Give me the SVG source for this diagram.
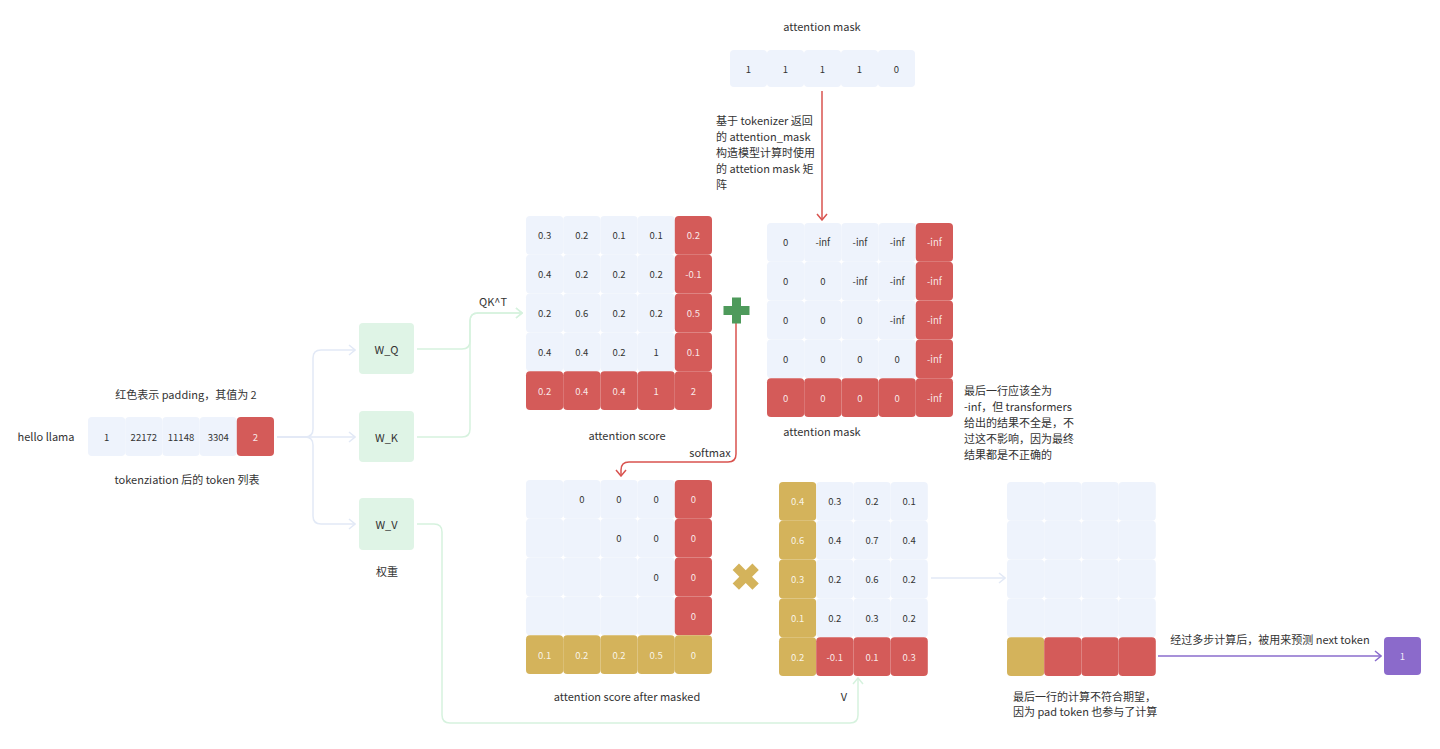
<svg xmlns="http://www.w3.org/2000/svg" width="1440" height="749" viewBox="0 0 1440 749">
<defs>
<style>
text{font-family:"Noto Sans CJK SC","Noto Sans",sans-serif;}
.c{fill:#eef3fc}
.r{fill:#d45b59}
.g{fill:#d4b35b}
.n{fill:#dff4e6}
.t{font-size:9.5px;fill:#333;text-anchor:middle;dominant-baseline:central}
.w{fill:#fff;fill-opacity:.88}
.l{font-size:11px;fill:#333}
.m{text-anchor:middle}
.nl{font-size:11px;fill:#333;text-anchor:middle;dominant-baseline:central}
.ln{fill:none;stroke-width:1.5}
</style>
<marker id="aB" markerWidth="8" markerHeight="12" refX="7" refY="6" orient="auto" markerUnits="userSpaceOnUse"><path d="M1,1 L7,6 L1,11" fill="none" stroke="#e2e9f6" stroke-width="1.5"/></marker>
<marker id="aG" markerWidth="8" markerHeight="12" refX="7" refY="6" orient="auto" markerUnits="userSpaceOnUse"><path d="M1,1 L7,6 L1,11" fill="none" stroke="#d6f2de" stroke-width="1.5"/></marker>
<marker id="aR" markerWidth="8" markerHeight="12" refX="7" refY="6" orient="auto" markerUnits="userSpaceOnUse"><path d="M1,1 L7,6 L1,11" fill="none" stroke="#d9534f" stroke-width="1.5"/></marker>
<marker id="aP" markerWidth="8" markerHeight="12" refX="7" refY="6" orient="auto" markerUnits="userSpaceOnUse"><path d="M1,1 L7,6 L1,11" fill="none" stroke="#8a6ccc" stroke-width="1.5"/></marker>
</defs>
<rect width="1440" height="749" fill="#fff"/>

<g id="connectors">
<path class="ln" stroke="#e2e9f6" d="M277,437 H355" marker-end="url(#aB)"/>
<path class="ln" stroke="#e2e9f6" d="M277,437 H305 Q313,437 313,429 V358 Q313,350 321,350 H355" marker-end="url(#aB)"/>
<path class="ln" stroke="#e2e9f6" d="M277,437 H305 Q313,437 313,445 V516 Q313,524 321,524 H355" marker-end="url(#aB)"/>
<path class="ln" stroke="#d6f2de" d="M417,349 H462 Q470,349 470,341 V321 Q470,313 478,313 H522" marker-end="url(#aG)"/>
<path class="ln" stroke="#d6f2de" d="M417,437 H462 Q470,437 470,429 V321 Q470,313 478,313 H522" marker-end="url(#aG)"/>
<path class="ln" stroke="#d6f2de" d="M417,524 H434 Q442,524 442,532 V715 Q442,723 450,723 H850 Q858,723 858,715 V678" marker-end="url(#aG)"/>
<path class="ln" stroke="#d9534f" d="M822,91 V220" marker-end="url(#aR)"/>
<path class="ln" stroke="#d9534f" d="M736,323 V454 Q736,462 728,462 H629 Q621,462 621,470 V476" marker-end="url(#aR)"/>
<path class="ln" stroke="#e2e9f6" d="M931,578 H1005" marker-end="url(#aB)"/>
<path class="ln" stroke="#8a6ccc" d="M1158,656 H1381" marker-end="url(#aP)"/>
<text class="l m" x="493" y="306">QK^T</text>
<text class="l m" x="710" y="457">softmax</text>
<text class="l m" x="1270" y="644">经过多步计算后，被用来预测 next token</text>
</g>

<g id="input">
<text class="l m" x="46" y="441">hello llama</text>
</g>

<g id="tokens" transform="translate(88,417)">
<rect class="c" x="0" y="0" width="37.2" height="39" rx="4"/>
<rect class="c" x="37.2" y="0" width="37.2" height="39" rx="4"/>
<rect class="c" x="74.4" y="0" width="37.2" height="39" rx="4"/>
<rect class="c" x="111.6" y="0" width="37.2" height="39" rx="4"/>
<rect class="r" x="148.8" y="0" width="37.2" height="39" rx="4"/>
<text class="t" x="18.6" y="19.5">1</text>
<text class="t" x="55.8" y="19.5">22172</text>
<text class="t" x="93" y="19.5">11148</text>
<text class="t" x="130.2" y="19.5">3304</text>
<text class="t w" x="167.4" y="19.5">2</text>
</g>
<g id="tokens-labels">
<text class="l m" x="186" y="399">红色表示 padding，其值为 2</text>
<text class="l m" x="187" y="484">tokenziation 后的 token 列表</text>
</g>

<g id="wq"><rect class="n" x="359" y="323" width="55" height="51" rx="4"/><text class="nl" x="386.5" y="348.5">W_Q</text></g>
<g id="wk"><rect class="n" x="359" y="411" width="55" height="51" rx="4"/><text class="nl" x="386.5" y="436.5">W_K</text></g>
<g id="wv"><rect class="n" x="359" y="498" width="55" height="52" rx="4"/><text class="nl" x="386.5" y="524">W_V</text></g>
<g id="weights-label"><text class="l m" x="387" y="576">权重</text></g>

<g id="mask-row">
<text class="l m" x="822" y="31">attention mask</text>
<g transform="translate(730,50)">
<rect class="c" x="0" y="0" width="37" height="37" rx="4"/>
<rect class="c" x="37" y="0" width="37" height="37" rx="4"/>
<rect class="c" x="74" y="0" width="37" height="37" rx="4"/>
<rect class="c" x="111" y="0" width="37" height="37" rx="4"/>
<rect class="c" x="148" y="0" width="37" height="37" rx="4"/>
<text class="t" x="18.5" y="18.5">1</text>
<text class="t" x="55.5" y="18.5">1</text>
<text class="t" x="92.5" y="18.5">1</text>
<text class="t" x="129.5" y="18.5">1</text>
<text class="t" x="166.5" y="18.5">0</text>
</g>
</g>

<g id="mask-note">
<text class="l" x="716" y="125">基于 tokenizer 返回</text>
<text class="l" x="716" y="141">的 attention_mask</text>
<text class="l" x="716" y="157">构造模型计算时使用</text>
<text class="l" x="716" y="173">的 attetion mask 矩</text>
<text class="l" x="716" y="189">阵</text>
</g>

<g id="score">
<g transform="translate(526,216)">
<rect class="c" x="0" y="0" width="37.2" height="38.8" rx="4"/><rect class="c" x="37.2" y="0" width="37.2" height="38.8" rx="4"/><rect class="c" x="74.4" y="0" width="37.2" height="38.8" rx="4"/><rect class="c" x="111.6" y="0" width="37.2" height="38.8" rx="4"/><rect class="r" x="148.8" y="0" width="37.2" height="38.8" rx="4"/>
<rect class="c" x="0" y="38.8" width="37.2" height="38.8" rx="4"/><rect class="c" x="37.2" y="38.8" width="37.2" height="38.8" rx="4"/><rect class="c" x="74.4" y="38.8" width="37.2" height="38.8" rx="4"/><rect class="c" x="111.6" y="38.8" width="37.2" height="38.8" rx="4"/><rect class="r" x="148.8" y="38.8" width="37.2" height="38.8" rx="4"/>
<rect class="c" x="0" y="77.6" width="37.2" height="38.8" rx="4"/><rect class="c" x="37.2" y="77.6" width="37.2" height="38.8" rx="4"/><rect class="c" x="74.4" y="77.6" width="37.2" height="38.8" rx="4"/><rect class="c" x="111.6" y="77.6" width="37.2" height="38.8" rx="4"/><rect class="r" x="148.8" y="77.6" width="37.2" height="38.8" rx="4"/>
<rect class="c" x="0" y="116.4" width="37.2" height="38.8" rx="4"/><rect class="c" x="37.2" y="116.4" width="37.2" height="38.8" rx="4"/><rect class="c" x="74.4" y="116.4" width="37.2" height="38.8" rx="4"/><rect class="c" x="111.6" y="116.4" width="37.2" height="38.8" rx="4"/><rect class="r" x="148.8" y="116.4" width="37.2" height="38.8" rx="4"/>
<rect class="r" x="0" y="155.2" width="37.2" height="38.8" rx="4"/><rect class="r" x="37.2" y="155.2" width="37.2" height="38.8" rx="4"/><rect class="r" x="74.4" y="155.2" width="37.2" height="38.8" rx="4"/><rect class="r" x="111.6" y="155.2" width="37.2" height="38.8" rx="4"/><rect class="r" x="148.8" y="155.2" width="37.2" height="38.8" rx="4"/>
<text class="t" x="18.6" y="19.4">0.3</text><text class="t" x="55.8" y="19.4">0.2</text><text class="t" x="93" y="19.4">0.1</text><text class="t" x="130.2" y="19.4">0.1</text><text class="t w" x="167.4" y="19.4">0.2</text>
<text class="t" x="18.6" y="58.2">0.4</text><text class="t" x="55.8" y="58.2">0.2</text><text class="t" x="93" y="58.2">0.2</text><text class="t" x="130.2" y="58.2">0.2</text><text class="t w" x="167.4" y="58.2">-0.1</text>
<text class="t" x="18.6" y="97">0.2</text><text class="t" x="55.8" y="97">0.6</text><text class="t" x="93" y="97">0.2</text><text class="t" x="130.2" y="97">0.2</text><text class="t w" x="167.4" y="97">0.5</text>
<text class="t" x="18.6" y="135.8">0.4</text><text class="t" x="55.8" y="135.8">0.4</text><text class="t" x="93" y="135.8">0.2</text><text class="t" x="130.2" y="135.8">1</text><text class="t w" x="167.4" y="135.8">0.1</text>
<text class="t w" x="18.6" y="174.6">0.2</text><text class="t w" x="55.8" y="174.6">0.4</text><text class="t w" x="93" y="174.6">0.4</text><text class="t w" x="130.2" y="174.6">1</text><text class="t w" x="167.4" y="174.6">2</text>
</g>
<text class="l m" x="627" y="440">attention score</text>
</g>

<g id="plus">
<path d="M732,297.5 h9 v8.5 h8.5 v9 h-8.5 v8.5 h-9 v-8.5 h-8.5 v-9 h8.5 z" fill="#4e9a5b"/>
</g>

<g id="mask-matrix">
<g transform="translate(767,223)">
<rect class="c" x="0" y="0" width="37.2" height="38.8" rx="4"/><rect class="c" x="37.2" y="0" width="37.2" height="38.8" rx="4"/><rect class="c" x="74.4" y="0" width="37.2" height="38.8" rx="4"/><rect class="c" x="111.6" y="0" width="37.2" height="38.8" rx="4"/><rect class="r" x="148.8" y="0" width="37.2" height="38.8" rx="4"/>
<rect class="c" x="0" y="38.8" width="37.2" height="38.8" rx="4"/><rect class="c" x="37.2" y="38.8" width="37.2" height="38.8" rx="4"/><rect class="c" x="74.4" y="38.8" width="37.2" height="38.8" rx="4"/><rect class="c" x="111.6" y="38.8" width="37.2" height="38.8" rx="4"/><rect class="r" x="148.8" y="38.8" width="37.2" height="38.8" rx="4"/>
<rect class="c" x="0" y="77.6" width="37.2" height="38.8" rx="4"/><rect class="c" x="37.2" y="77.6" width="37.2" height="38.8" rx="4"/><rect class="c" x="74.4" y="77.6" width="37.2" height="38.8" rx="4"/><rect class="c" x="111.6" y="77.6" width="37.2" height="38.8" rx="4"/><rect class="r" x="148.8" y="77.6" width="37.2" height="38.8" rx="4"/>
<rect class="c" x="0" y="116.4" width="37.2" height="38.8" rx="4"/><rect class="c" x="37.2" y="116.4" width="37.2" height="38.8" rx="4"/><rect class="c" x="74.4" y="116.4" width="37.2" height="38.8" rx="4"/><rect class="c" x="111.6" y="116.4" width="37.2" height="38.8" rx="4"/><rect class="r" x="148.8" y="116.4" width="37.2" height="38.8" rx="4"/>
<rect class="r" x="0" y="155.2" width="37.2" height="38.8" rx="4"/><rect class="r" x="37.2" y="155.2" width="37.2" height="38.8" rx="4"/><rect class="r" x="74.4" y="155.2" width="37.2" height="38.8" rx="4"/><rect class="r" x="111.6" y="155.2" width="37.2" height="38.8" rx="4"/><rect class="r" x="148.8" y="155.2" width="37.2" height="38.8" rx="4"/>
<text class="t" x="18.6" y="19.4">0</text><text class="t" x="55.8" y="19.4">-inf</text><text class="t" x="93" y="19.4">-inf</text><text class="t" x="130.2" y="19.4">-inf</text><text class="t w" x="167.4" y="19.4">-inf</text>
<text class="t" x="18.6" y="58.2">0</text><text class="t" x="55.8" y="58.2">0</text><text class="t" x="93" y="58.2">-inf</text><text class="t" x="130.2" y="58.2">-inf</text><text class="t w" x="167.4" y="58.2">-inf</text>
<text class="t" x="18.6" y="97">0</text><text class="t" x="55.8" y="97">0</text><text class="t" x="93" y="97">0</text><text class="t" x="130.2" y="97">-inf</text><text class="t w" x="167.4" y="97">-inf</text>
<text class="t" x="18.6" y="135.8">0</text><text class="t" x="55.8" y="135.8">0</text><text class="t" x="93" y="135.8">0</text><text class="t" x="130.2" y="135.8">0</text><text class="t w" x="167.4" y="135.8">-inf</text>
<text class="t w" x="18.6" y="174.6">0</text><text class="t w" x="55.8" y="174.6">0</text><text class="t w" x="93" y="174.6">0</text><text class="t w" x="130.2" y="174.6">0</text><text class="t w" x="167.4" y="174.6">-inf</text>
</g>
<text class="l m" x="822" y="436">attention mask</text>
</g>

<g id="mask-matrix-note">
<text class="l" x="964" y="395">最后一行应该全为</text>
<text class="l" x="964" y="411">-inf，但 transformers</text>
<text class="l" x="964" y="427">给出的结果不全是，不</text>
<text class="l" x="964" y="443">过这不影响，因为最终</text>
<text class="l" x="964" y="459">结果都是不正确的</text>
</g>

<g id="masked-score">
<g transform="translate(526,480)">
<rect class="c" x="0" y="0" width="37.2" height="38.8" rx="4"/><rect class="c" x="37.2" y="0" width="37.2" height="38.8" rx="4"/><rect class="c" x="74.4" y="0" width="37.2" height="38.8" rx="4"/><rect class="c" x="111.6" y="0" width="37.2" height="38.8" rx="4"/><rect class="r" x="148.8" y="0" width="37.2" height="38.8" rx="4"/>
<rect class="c" x="0" y="38.8" width="37.2" height="38.8" rx="4"/><rect class="c" x="37.2" y="38.8" width="37.2" height="38.8" rx="4"/><rect class="c" x="74.4" y="38.8" width="37.2" height="38.8" rx="4"/><rect class="c" x="111.6" y="38.8" width="37.2" height="38.8" rx="4"/><rect class="r" x="148.8" y="38.8" width="37.2" height="38.8" rx="4"/>
<rect class="c" x="0" y="77.6" width="37.2" height="38.8" rx="4"/><rect class="c" x="37.2" y="77.6" width="37.2" height="38.8" rx="4"/><rect class="c" x="74.4" y="77.6" width="37.2" height="38.8" rx="4"/><rect class="c" x="111.6" y="77.6" width="37.2" height="38.8" rx="4"/><rect class="r" x="148.8" y="77.6" width="37.2" height="38.8" rx="4"/>
<rect class="c" x="0" y="116.4" width="37.2" height="38.8" rx="4"/><rect class="c" x="37.2" y="116.4" width="37.2" height="38.8" rx="4"/><rect class="c" x="74.4" y="116.4" width="37.2" height="38.8" rx="4"/><rect class="c" x="111.6" y="116.4" width="37.2" height="38.8" rx="4"/><rect class="r" x="148.8" y="116.4" width="37.2" height="38.8" rx="4"/>
<rect class="g" x="0" y="155.2" width="37.2" height="38.8" rx="4"/><rect class="g" x="37.2" y="155.2" width="37.2" height="38.8" rx="4"/><rect class="g" x="74.4" y="155.2" width="37.2" height="38.8" rx="4"/><rect class="g" x="111.6" y="155.2" width="37.2" height="38.8" rx="4"/><rect class="g" x="148.8" y="155.2" width="37.2" height="38.8" rx="4"/>
<text class="t" x="55.8" y="19.4">0</text><text class="t" x="93" y="19.4">0</text><text class="t" x="130.2" y="19.4">0</text><text class="t w" x="167.4" y="19.4">0</text>
<text class="t" x="93" y="58.2">0</text><text class="t" x="130.2" y="58.2">0</text><text class="t w" x="167.4" y="58.2">0</text>
<text class="t" x="130.2" y="97">0</text><text class="t w" x="167.4" y="97">0</text>
<text class="t w" x="167.4" y="135.8">0</text>
<text class="t w" x="18.6" y="174.6">0.1</text><text class="t w" x="55.8" y="174.6">0.2</text><text class="t w" x="93" y="174.6">0.2</text><text class="t w" x="130.2" y="174.6">0.5</text><text class="t w" x="167.4" y="174.6">0</text>
</g>
<text class="l m" x="627" y="701">attention score after masked</text>
</g>

<g id="times">
<path d="M741.2,562.7 h9 v9.5 h9.5 v9 h-9.5 v9.5 h-9 v-9.5 h-9.5 v-9 h9.5 z" fill="#d4b35b" transform="rotate(45 745.7 576.7)"/>
</g>

<g id="v-matrix">
<g transform="translate(779,482)">
<rect class="g" x="0" y="0" width="37.2" height="38.8" rx="4"/><rect class="c" x="37.2" y="0" width="37.2" height="38.8" rx="4"/><rect class="c" x="74.4" y="0" width="37.2" height="38.8" rx="4"/><rect class="c" x="111.6" y="0" width="37.2" height="38.8" rx="4"/>
<rect class="g" x="0" y="38.8" width="37.2" height="38.8" rx="4"/><rect class="c" x="37.2" y="38.8" width="37.2" height="38.8" rx="4"/><rect class="c" x="74.4" y="38.8" width="37.2" height="38.8" rx="4"/><rect class="c" x="111.6" y="38.8" width="37.2" height="38.8" rx="4"/>
<rect class="g" x="0" y="77.6" width="37.2" height="38.8" rx="4"/><rect class="c" x="37.2" y="77.6" width="37.2" height="38.8" rx="4"/><rect class="c" x="74.4" y="77.6" width="37.2" height="38.8" rx="4"/><rect class="c" x="111.6" y="77.6" width="37.2" height="38.8" rx="4"/>
<rect class="g" x="0" y="116.4" width="37.2" height="38.8" rx="4"/><rect class="c" x="37.2" y="116.4" width="37.2" height="38.8" rx="4"/><rect class="c" x="74.4" y="116.4" width="37.2" height="38.8" rx="4"/><rect class="c" x="111.6" y="116.4" width="37.2" height="38.8" rx="4"/>
<rect class="g" x="0" y="155.2" width="37.2" height="38.8" rx="4"/><rect class="r" x="37.2" y="155.2" width="37.2" height="38.8" rx="4"/><rect class="r" x="74.4" y="155.2" width="37.2" height="38.8" rx="4"/><rect class="r" x="111.6" y="155.2" width="37.2" height="38.8" rx="4"/>
<text class="t w" x="18.6" y="19.4">0.4</text><text class="t" x="55.8" y="19.4">0.3</text><text class="t" x="93" y="19.4">0.2</text><text class="t" x="130.2" y="19.4">0.1</text>
<text class="t w" x="18.6" y="58.2">0.6</text><text class="t" x="55.8" y="58.2">0.4</text><text class="t" x="93" y="58.2">0.7</text><text class="t" x="130.2" y="58.2">0.4</text>
<text class="t w" x="18.6" y="97">0.3</text><text class="t" x="55.8" y="97">0.2</text><text class="t" x="93" y="97">0.6</text><text class="t" x="130.2" y="97">0.2</text>
<text class="t w" x="18.6" y="135.8">0.1</text><text class="t" x="55.8" y="135.8">0.2</text><text class="t" x="93" y="135.8">0.3</text><text class="t" x="130.2" y="135.8">0.2</text>
<text class="t w" x="18.6" y="174.6">0.2</text><text class="t w" x="55.8" y="174.6">-0.1</text><text class="t w" x="93" y="174.6">0.1</text><text class="t w" x="130.2" y="174.6">0.3</text>
</g>
<text class="l m" x="844" y="701">V</text>
</g>

<g id="result">
<g transform="translate(1007,482)">
<rect class="c" x="0" y="0" width="37.2" height="38.8" rx="4"/><rect class="c" x="37.2" y="0" width="37.2" height="38.8" rx="4"/><rect class="c" x="74.4" y="0" width="37.2" height="38.8" rx="4"/><rect class="c" x="111.6" y="0" width="37.2" height="38.8" rx="4"/>
<rect class="c" x="0" y="38.8" width="37.2" height="38.8" rx="4"/><rect class="c" x="37.2" y="38.8" width="37.2" height="38.8" rx="4"/><rect class="c" x="74.4" y="38.8" width="37.2" height="38.8" rx="4"/><rect class="c" x="111.6" y="38.8" width="37.2" height="38.8" rx="4"/>
<rect class="c" x="0" y="77.6" width="37.2" height="38.8" rx="4"/><rect class="c" x="37.2" y="77.6" width="37.2" height="38.8" rx="4"/><rect class="c" x="74.4" y="77.6" width="37.2" height="38.8" rx="4"/><rect class="c" x="111.6" y="77.6" width="37.2" height="38.8" rx="4"/>
<rect class="c" x="0" y="116.4" width="37.2" height="38.8" rx="4"/><rect class="c" x="37.2" y="116.4" width="37.2" height="38.8" rx="4"/><rect class="c" x="74.4" y="116.4" width="37.2" height="38.8" rx="4"/><rect class="c" x="111.6" y="116.4" width="37.2" height="38.8" rx="4"/>
<rect class="g" x="0" y="155.2" width="37.2" height="38.8" rx="4"/><rect class="r" x="37.2" y="155.2" width="37.2" height="38.8" rx="4"/><rect class="r" x="74.4" y="155.2" width="37.2" height="38.8" rx="4"/><rect class="r" x="111.6" y="155.2" width="37.2" height="38.8" rx="4"/>
</g>
<text class="l" x="1013" y="701">最后一行的计算不符合期望，</text>
<text class="l" x="1013" y="716">因为 pad token 也参与了计算</text>
</g>

<g id="next-token">
<rect x="1384" y="637" width="37" height="38" rx="4" fill="#8b6acb"/>
<text class="t w" x="1402.5" y="656">1</text>
</g>
</svg>
